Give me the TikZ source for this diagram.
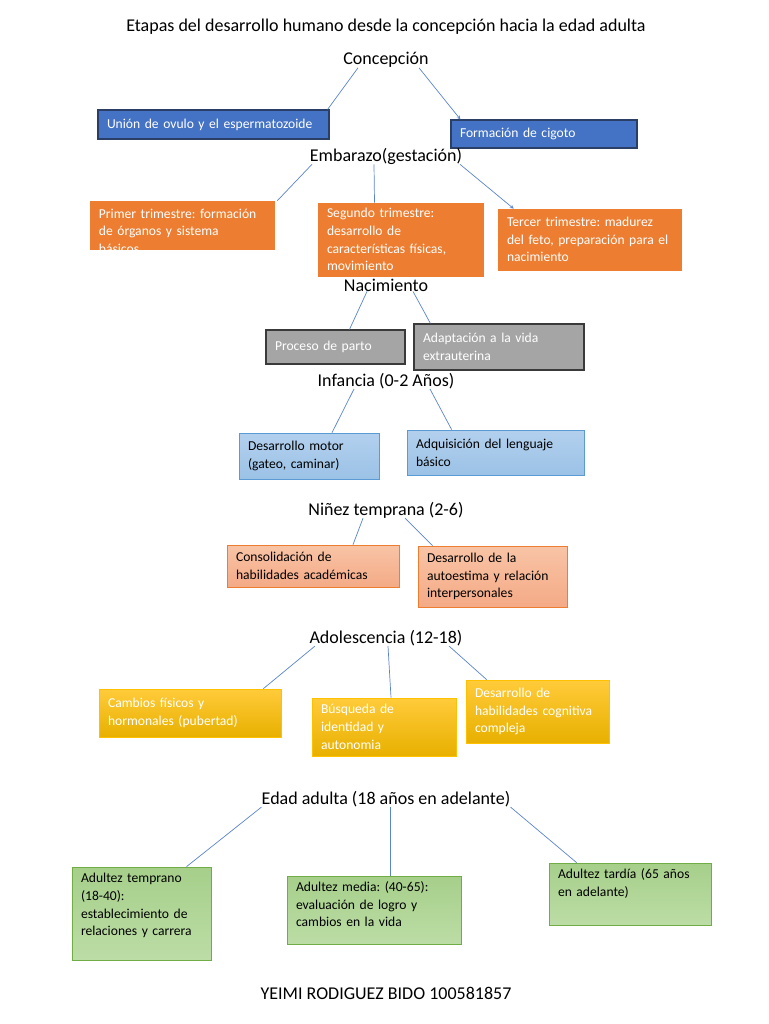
\documentclass[tikz,border=0pt]{standalone}
\usepackage{fontspec}
\setmainfont{Carlito}
\frenchspacing
\usetikzlibrary{arrows}
\definecolor{cblue}{HTML}{4472C4}
\definecolor{cbluedark}{HTML}{2B3F66}
\definecolor{corange}{HTML}{ED7D31}
\definecolor{cgray}{HTML}{A5A5A5}
\definecolor{cgraydark}{HTML}{3A3A3A}
\definecolor{cskytop}{HTML}{B3D0EE}
\definecolor{cskybot}{HTML}{9BC2E6}
\definecolor{cskyline}{HTML}{5B9BD5}
\definecolor{csalmontop}{HTML}{F8C4A6}
\definecolor{csalmonbot}{HTML}{F4AA86}
\definecolor{cgoldtop}{HTML}{FFCB3A}
\definecolor{cgoldbot}{HTML}{E8B000}
\definecolor{cgoldline}{HTML}{FFC000}
\definecolor{cgreentop}{HTML}{A6CF8A}
\definecolor{cgreenbot}{HTML}{BCDDA6}
\definecolor{cgreenline}{HTML}{70AD47}
\definecolor{clink}{HTML}{5B84D0}
\begin{document}
\begin{tikzpicture}[x=1pt,y=-1pt,>=stealth,
    stage/.style={inner sep=0pt,font=\fontsize{18}{21}\selectfont},
    box/.style={rectangle,inner xsep=9pt,inner ysep=0pt,align=left,font=\fontsize{13.6}{17.7}\selectfont},
    boxsize/.code 2 args={\pgfmathsetmacro\bw{#1-18}\tikzset{minimum width=#1pt,minimum height=#2pt,text width/.expanded={\bw pt}}},
    bluebox/.style={box,fill=cblue,draw=cbluedark,line width=1.2pt,text=white},
    orangebox/.style={box,fill=corange,draw=corange,line width=0.6pt,text=white},
    graybox/.style={box,fill=cgray,draw=cgraydark,line width=1.2pt,text=white},
    skybox/.style={box,top color=cskytop,bottom color=cskybot,draw=cskyline,line width=0.7pt},
    salmonbox/.style={box,top color=csalmontop,bottom color=csalmonbot,draw=corange,line width=0.7pt},
    goldbox/.style={box,top color=cgoldtop,bottom color=cgoldbot,draw=cgoldline,line width=0.7pt,text=white},
    greenbox/.style={box,top color=cgreentop,bottom color=cgreenbot,draw=cgreenline,line width=0.7pt},
    link/.style={draw=clink,line width=0.7pt}]
  \useasboundingbox[fill=white] (0,0) rectangle (768,1024);

  \node[font=\fontsize{18}{21}\selectfont] (title) at (386,27) {Etapas del desarrollo humano desde la concepción hacia la edad adulta};

  % concepcion
  \node[stage] (conc) at (386,60) {Concepción};
  \node[bluebox,boxsize={231}{29}] (union) at (213.5,124.5) {Unión de ovulo y el espermatozoide};
  \node[bluebox,boxsize={186}{28}] (cigoto) at (544,134) {Formación de cigoto};
  \draw[link] ([xshift=-28pt]conc.south) -- ([xshift=-2pt]union.north east);
  \draw[link,->] ([xshift=33pt]conc.south) -- ([xshift=10pt]cigoto.north west);

  % embarazo
  \node[stage] (emb) at (386,156) {Embarazo(gestación)};
  \node[orangebox,boxsize={184}{48}] (primer) at (182,225) {};
  \begin{scope}
    \clip (primer.north west) rectangle (primer.south east);
    \node[box,text=white,text width=166pt,anchor=north west,inner ysep=8pt] (primertxt) at (primer.north west) {Primer trimestre: formación\\de órganos y sistema\\básicos};
  \end{scope}
  \node[orangebox,boxsize={165}{73}] (segundo) at (400.5,239.5) {Segundo trimestre:\\desarrollo de\\características físicas,\\movimiento};
  \node[orangebox,boxsize={183}{61}] (tercer) at (589.5,239.5) {Tercer trimestre: madurez\\del feto, preparación para el\\nacimiento};
  \draw[link] ([xshift=-74pt]emb.south) -- ([xshift=3pt]primer.north east);
  \draw[link] ([xshift=-12pt]emb.south) -- ([xshift=-26pt]segundo.north);
  \draw[link,->] ([xshift=74pt]emb.south) -- ([xshift=16pt]tercer.north west);

  % nacimiento
  \node[stage] (nac) at (386,285) {Nacimiento};
  \node[graybox,boxsize={139}{34}] (parto) at (335.5,347) {Proceso de parto};
  \node[graybox,boxsize={170}{46}] (adapt) at (499,347) {Adaptación a la vida\\extrauterina};
  \draw[link] ([xshift=-19pt]nac.south) -- ([xshift=14pt]parto.north);
  \draw[link] ([xshift=27pt]nac.south) -- ([xshift=17pt]adapt.north west);

  % infancia
  \node[stage] (inf) at (386,381) {Infancia (0-2 Años)};
  \node[skybox,boxsize={140}{46}] (motor) at (309,456) {Desarrollo motor\\(gateo, caminar)};
  \node[skybox,boxsize={177}{45}] (lenguaje) at (495.5,452.5) {Adquisición del lenguaje\\básico};
  \draw[link] ([xshift=-32pt]inf.south) -- ([xshift=23pt]motor.north);
  \draw[link] ([xshift=44pt]inf.south) -- ([xshift=45pt]lenguaje.north west);

  % ninez
  \node[stage] (nin) at (386,510) {Niñez temprana (2-6)};
  \node[salmonbox,boxsize={172}{42}] (consol) at (313,566) {Consolidación de\\habilidades académicas};
  \node[salmonbox,boxsize={149}{61}] (autoest) at (492.5,576.5) {Desarrollo de la\\autoestima y relación\\interpersonales};
  \draw[link] ([xshift=-23pt]nin.south) -- ([xshift=40pt]consol.north);
  \draw[link] ([xshift=19pt]nin.south) -- ([xshift=15pt]autoest.north west);

  % adolescencia
  \node[stage] (adol) at (386,638) {Adolescencia (12-18)};
  \node[goldbox,boxsize={182}{48}] (cambios) at (190,713) {Cambios físicos y\\hormonales (pubertad)};
  \node[goldbox,boxsize={144}{58}] (identidad) at (384,727) {Búsqueda de\\identidad y\\autonomia};
  \node[goldbox,boxsize={143}{63}] (cognitiva) at (537.5,711.5) {Desarrollo de\\habilidades cognitiva\\compleja};
  \draw[link] ([xshift=-71pt]adol.south) -- ([xshift=-18pt]cambios.north east);
  \draw[link] ([xshift=2pt]adol.south) -- ([xshift=7pt]identidad.north);
  \draw[link] ([xshift=63pt]adol.south) -- ([xshift=21pt]cognitiva.north west);

  % edad adulta
  \node[stage] (adulta) at (386,799) {Edad adulta (18 años en adelante)};
  \node[greenbox,boxsize={139}{93},text depth=71pt] (temprana) at (141.5,913.5) {Adultez temprano\\(18-40):\\establecimiento de\\relaciones y carrera};
  \node[greenbox,boxsize={174}{68},text depth=47pt] (media) at (374,910) {Adultez media: (40-65):\\evaluación de logro y\\cambios en la vida};
  \node[greenbox,boxsize={162}{62},text depth=40pt] (tardia) at (630,894) {Adultez tardía (65 años\\en adelante)};
  \draw[link] (adulta.south west) -- ([xshift=45pt]temprana.north);
  \draw[link] ([xshift=4pt]adulta.south) -- ([xshift=16pt]media.north);
  \draw[link] (adulta.south east) -- ([xshift=28pt]tardia.north west);

  \node[font=\fontsize{18}{21}\selectfont] (autor) at (386,993) {YEIMI RODIGUEZ BIDO 100581857};
\end{tikzpicture}
\end{document}
